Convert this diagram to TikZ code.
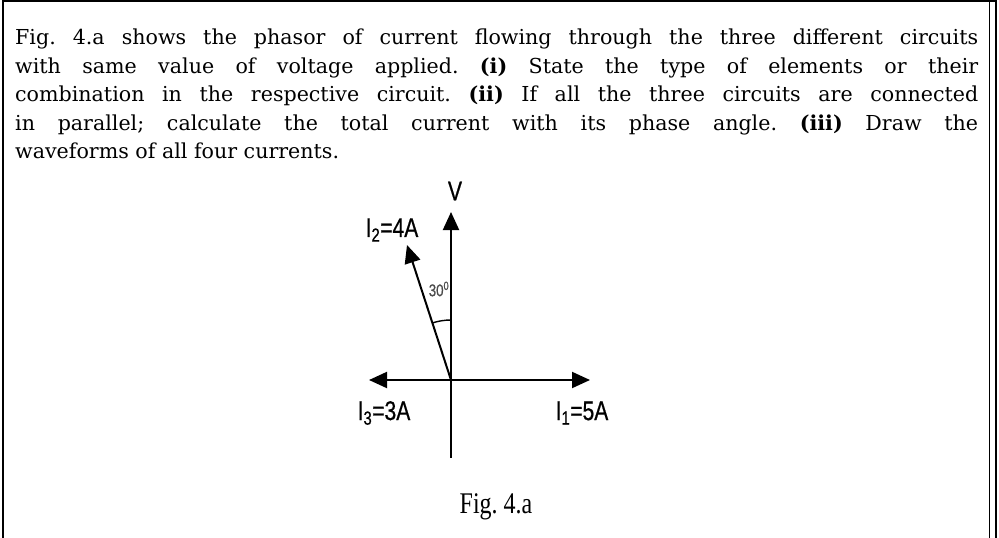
\documentclass[tikz,border=0pt]{standalone}
\usepackage{fontspec}
\setmainfont{DejaVu Serif}
\newfontfamily\narrowsans[FakeStretch=0.78,FakeBold=0.6]{Liberation Sans}
\newfontfamily\narrowserif[FakeStretch=0.8]{Liberation Serif}
\usetikzlibrary{arrows.meta}
\begin{document}
\frenchspacing
\begin{tikzpicture}[x=1pt,y=-1pt,
  lbl/.style={font=\narrowsans\fontsize{27}{30}\selectfont, inner sep=0pt},
  ph/.style={line width=2pt,-{Triangle[length=18pt,width=16pt]}}]
\useasboundingbox (0,0) rectangle (999,538);
\draw[line width=1.2pt] (3,538) -- (3,1) -- (996,1) -- (996,538);
\draw[line width=1pt] (989,1) -- (989,538);
\node[anchor=north west, inner sep=0pt, text width=963pt, align=justify,
  font=\fontsize{20.6}{28.5}\selectfont] (txt) at (15,29)
 {Fig. 4.a shows the phasor of current flowing through the three different circuits\linebreak
 with same value of voltage applied. \textbf{(i)} State the type of elements or their\linebreak
 combination in the respective circuit. \textbf{(ii)} If all the three circuits are connected\linebreak
 in parallel; calculate the total current with its phase angle. \textbf{(iii)} Draw the\linebreak
 waveforms of all four currents.};
\coordinate (o) at (451,380);
\coordinate (vt) at (451,212);
\coordinate (vb) at (451,458);
\coordinate (lt) at (369,380);
\coordinate (rt) at (590,380);
\coordinate (i2) at (407,245);
\draw[line width=2pt] (o) -- (vb);
\draw[ph] (o) -- (vt);
\draw[ph] (o) -- (lt);
\draw[ph] (o) -- (rt);
\draw[ph] (o) -- (i2);
\draw[line width=1.4pt] (451,320) arc[start angle=-90, end angle=-108, radius=60];
\node[lbl] (v) at (455,191) {V};
\node[lbl] (l2) at (392,230) {I\textsubscript{2}=4A};
\node[lbl, font=\narrowsans\fontsize{17}{19}\selectfont, text=black!70] (ang) at (439,289) {30\textsuperscript{0}};
\node[lbl] (l3) at (384,413) {I\textsubscript{3}=3A};
\node[lbl] (l1) at (582,413) {I\textsubscript{1}=5A};
\node[inner sep=0pt, font=\narrowserif\fontsize{30}{32}\selectfont] (cap) at (496,507) {Fig. 4.a};
\end{tikzpicture}
\end{document}
